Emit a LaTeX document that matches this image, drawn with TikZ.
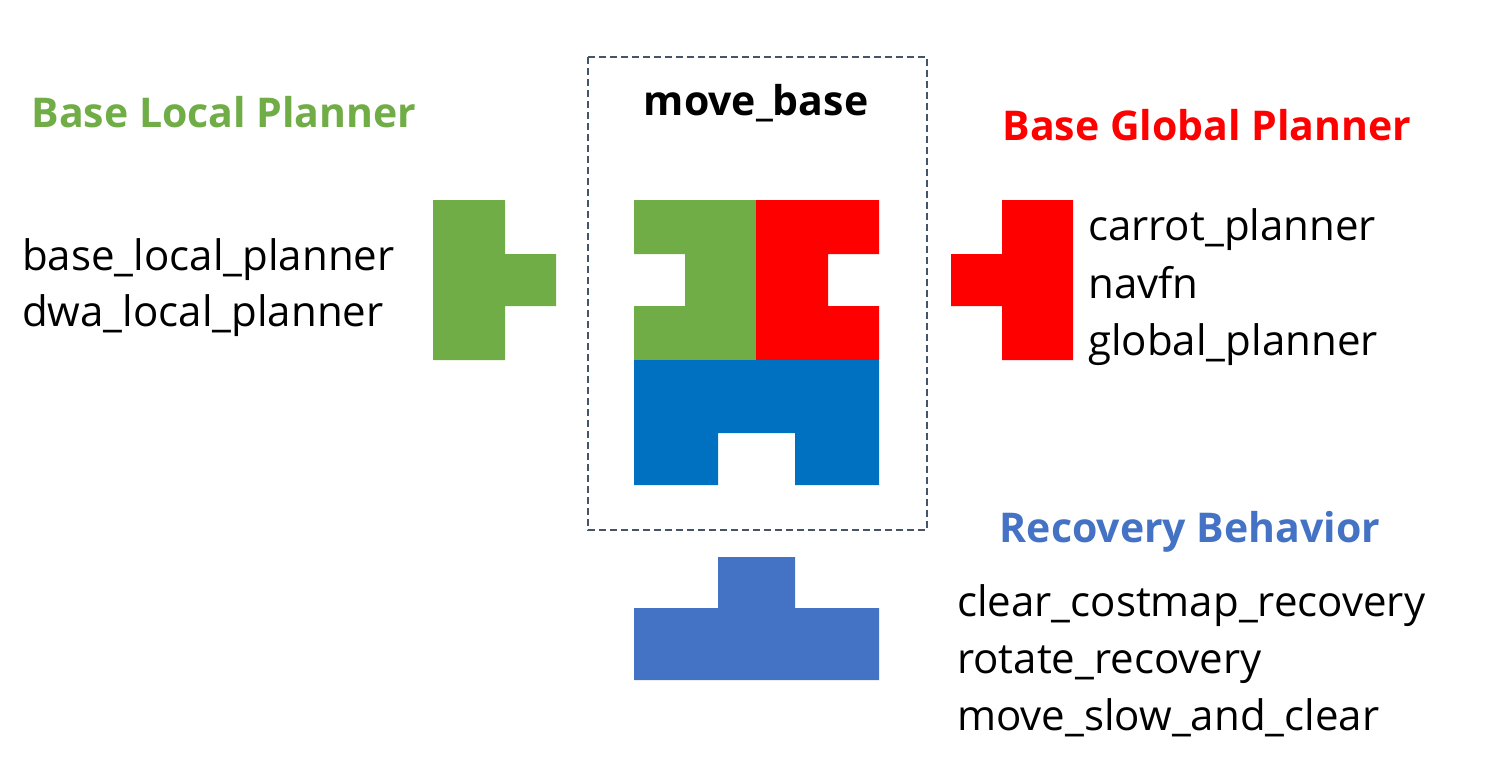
\documentclass[tikz,border=0pt]{standalone}
\usepackage{fontspec}
\setmainfont{Open Sans}
\definecolor{pg}{HTML}{70AD47}
\definecolor{pb}{HTML}{0070C0}
\definecolor{pb2}{HTML}{4472C4}
\definecolor{dashc}{HTML}{44546A}
\begin{document}
\begin{tikzpicture}[x=1pt,y=-1pt,
  lbl/.style={anchor=base west,inner sep=0,font=\fontsize{42}{46}\selectfont},
  ttl/.style={anchor=base,inner sep=0,font=\fontsize{41}{46}\selectfont\bfseries}]
\useasboundingbox (0,0) rectangle (1495,774);
\draw[draw=dashc,dash pattern=on 7pt off 4pt,line width=1.5] (588,57) rectangle (927,530);
% left green T
\fill[pg] (433,200) -- (505,200) -- (505,254) -- (556,254) -- (556,306) -- (505,306) -- (505,360) -- (433,360) -- cycle;
% central green
\fill[pg] (634,200) -- (756,200) -- (756,360) -- (634,360) -- (634,306) -- (685,306) -- (685,254) -- (634,254) -- cycle;
% central red
\fill[red] (756,200) -- (879,200) -- (879,254) -- (828,254) -- (828,306) -- (879,306) -- (879,360) -- (756,360) -- cycle;
% central blue
\fill[pb] (634,360) -- (879,360) -- (879,485) -- (795,485) -- (795,433) -- (718,433) -- (718,485) -- (634,485) -- cycle;
% right red
\fill[red] (1002,200) -- (1073,200) -- (1073,360) -- (1002,360) -- (1002,306) -- (951,306) -- (951,254) -- (1002,254) -- cycle;
% bottom blue
\fill[pb2] (718,557) -- (795,557) -- (795,608) -- (879,608) -- (879,680) -- (634,680) -- (634,608) -- (718,608) -- cycle;
\node[ttl,text=pg] (tl) at (224,127) {Base Local Planner};
\node[ttl] (tm) at (756,115) {move\_base};
\node[ttl,text=red] (tg) at (1207,140) {Base Global Planner};
\node[ttl,text=pb2] (tr) at (1190,542) {Recovery Behavior};
\node[lbl] (l1) at (22,270) {base\_local\_planner};
\node[lbl] (l2) at (22,326) {dwa\_local\_planner};
\node[lbl] (g1) at (1088,240) {carrot\_planner};
\node[lbl] (g2) at (1088,298) {navfn};
\node[lbl] (g3) at (1088,355) {global\_planner};
\node[lbl] (r1) at (957,616) {clear\_costmap\_recovery};
\node[lbl] (r2) at (957,673) {rotate\_recovery};
\node[lbl] (r3) at (957,730) {move\_slow\_and\_clear};
\end{tikzpicture}
\end{document}
